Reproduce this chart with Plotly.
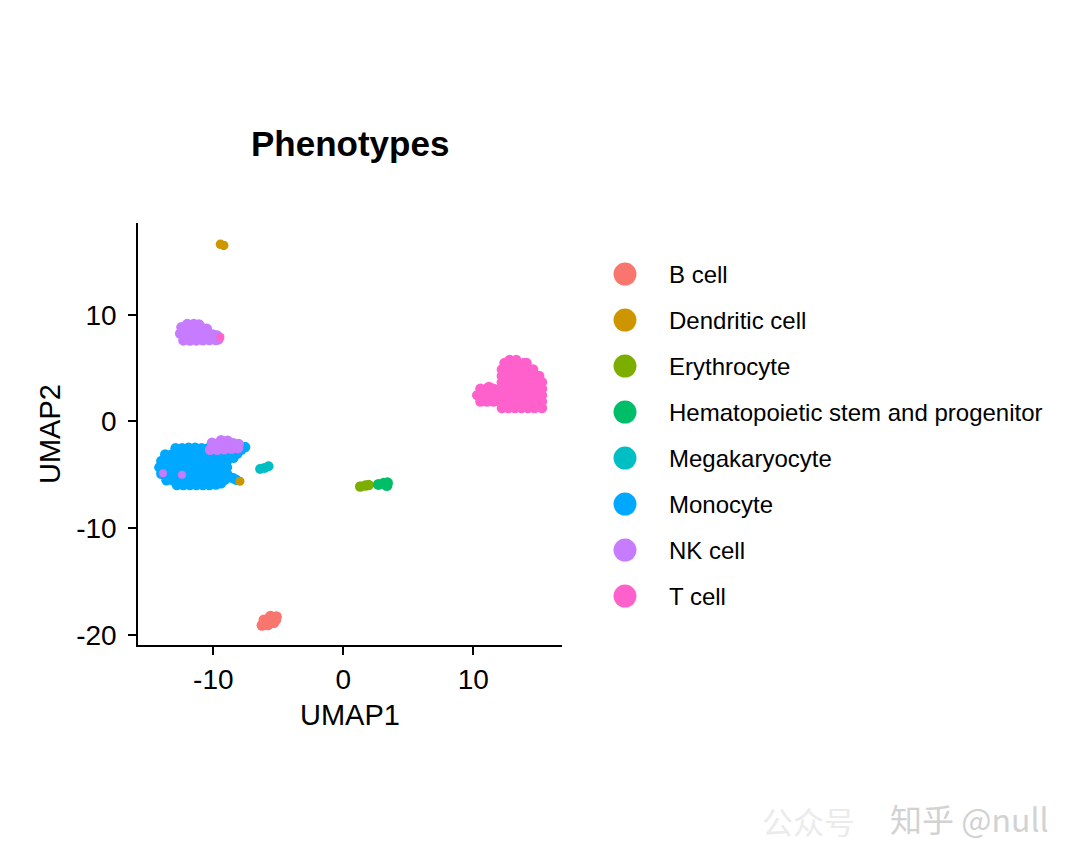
import plotly.graph_objects as go

# ---------------- data ----------------
categories = ["B cell", "Dendritic cell", "Erythrocyte",
              "Hematopoietic stem and progenitor", "Megakaryocyte",
              "Monocyte", "NK cell", "T cell"]
colors = ["#F8766D", "#CD9600", "#7CAE00", "#00BE67",
          "#00BFC4", "#00A9FF", "#C77CFF", "#FF61CC"]

x_ticks = [-10, 0, 10]
x_tick_labels = ["-10", "0", "10"]
y_ticks = [-20, -10, 0, 10]
y_tick_labels = ["-20", "-10", "0", "10"]

# (UMAP1, UMAP2) cells
monocyte_pts = [
    (-12.9, -2.5), (-12.4, -2.5), (-11.9, -2.45), (-11.4, -2.45), (-10.9, -2.5), (-10.4, -2.5), (-9.9, -2.6),
    (-13.7, -3.1), (-13.2, -3.1), (-12.7, -3.1), (-12.2, -3.1), (-11.7, -3.1), (-11.2, -3.1),
    (-10.7, -3.1), (-10.2, -3.1), (-9.7, -3.1), (-9.2, -3.1), (-8.7, -3.2),
    (-14.0, -3.7), (-13.5, -3.7), (-13.0, -3.7), (-12.5, -3.7), (-12.0, -3.7), (-11.5, -3.7),
    (-11.0, -3.7), (-10.5, -3.7), (-10.0, -3.7), (-9.5, -3.7), (-8.95, -3.7),
    (-14.15, -4.3), (-13.65, -4.3), (-13.15, -4.3), (-12.65, -4.3), (-12.15, -4.3), (-11.65, -4.3),
    (-11.15, -4.3), (-10.65, -4.3), (-10.15, -4.3), (-9.65, -4.3), (-9.15, -4.3), (-8.95, -4.3),
    (-14.0, -4.9), (-13.5, -4.9), (-13.0, -4.9), (-12.5, -4.9), (-12.0, -4.9), (-11.5, -4.9),
    (-11.0, -4.9), (-10.5, -4.9), (-10.0, -4.9), (-9.5, -4.9), (-8.95, -4.9),
    (-13.6, -5.5), (-13.1, -5.5), (-12.6, -5.5), (-12.1, -5.5), (-11.6, -5.5), (-11.1, -5.5),
    (-10.6, -5.5), (-10.1, -5.5), (-9.6, -5.5), (-9.1, -5.45),
    (-12.8, -5.95), (-12.3, -5.95), (-11.8, -5.95), (-11.3, -5.95), (-10.8, -5.95),
    (-10.3, -5.95), (-9.8, -5.9), (-9.4, -5.8),
    (-8.45, -3.4), (-8.15, -3.0), (-7.85, -2.65), (-7.55, -2.4),
    (-8.5, -5.3), (-8.25, -5.45),
]
dendritic_near_mono = [(-7.95, -5.6)]
nk_on_mono = [
    (-10.25, -2.65), (-9.7, -2.65), (-9.15, -2.6), (-8.6, -2.55), (-8.1, -2.5),
    (-10.1, -2.0), (-9.55, -2.0), (-9.0, -2.0), (-8.45, -2.05), (-8.05, -2.1),
    (-9.4, -1.75), (-8.9, -1.8),
]
nk_dots = [(-13.87, -4.85), (-12.41, -5.0)]
nk_upper = [
    (-12.0, 9.13), (-11.5, 9.13), (-11.1, 9.1),
    (-12.45, 8.84), (-11.95, 8.84), (-11.45, 8.84), (-10.95, 8.84), (-10.5, 8.7),
    (-12.55, 8.24), (-12.05, 8.24), (-11.55, 8.24), (-11.05, 8.24), (-10.55, 8.24),
    (-10.05, 8.15), (-9.7, 8.05),
    (-12.3, 7.6), (-11.8, 7.58), (-11.3, 7.6), (-10.8, 7.62), (-10.3, 7.64),
    (-9.8, 7.64), (-9.6, 7.7),
]
t_cell_tip = [(-9.45, 7.92)]
t_cell_main = [
    (12.2, 1.27), (12.7, 1.27), (13.2, 1.27), (13.7, 1.27), (14.2, 1.27), (14.7, 1.27), (15.28, 1.27),
    (10.55, 1.87), (11.05, 1.87), (11.55, 1.87), (12.05, 1.87), (12.55, 1.87), (13.05, 1.87),
    (13.55, 1.87), (14.05, 1.87), (14.55, 1.87), (15.05, 1.87), (15.28, 1.87),
    (10.3, 2.47), (10.8, 2.47), (11.3, 2.47), (11.8, 2.47), (12.3, 2.47), (12.8, 2.47),
    (13.3, 2.47), (13.8, 2.47), (14.3, 2.47), (14.8, 2.47), (15.28, 2.47),
    (10.55, 3.07), (11.05, 3.07), (11.55, 3.07), (12.05, 3.07), (12.55, 3.07), (13.05, 3.07),
    (13.55, 3.07), (14.05, 3.07), (14.55, 3.07), (15.05, 3.07), (15.28, 3.07),
    (11.2, 3.23),
    (12.2, 3.67), (12.7, 3.67), (13.2, 3.67), (13.7, 3.67), (14.2, 3.67), (14.7, 3.67), (15.28, 3.67),
    (12.2, 4.27), (12.7, 4.27), (13.2, 4.27), (13.7, 4.27), (14.2, 4.27), (14.7, 4.27), (15.07, 4.27),
    (12.2, 4.87), (12.7, 4.87), (13.2, 4.87), (13.7, 4.87), (14.2, 4.87), (14.6, 4.87),
    (12.4, 5.47), (12.9, 5.47), (13.4, 5.47), (13.9, 5.47), (14.1, 5.47),
    (12.8, 5.76), (13.3, 5.76),
]
dendritic_top = [(-9.45, 16.6), (-9.2, 16.5)]
megakaryocyte_pts = [(-6.4, -4.45), (-6.05, -4.35), (-5.75, -4.2)]
erythrocyte_pts = [(1.3, -6.1), (1.7, -6.0), (1.95, -5.95)]
hsc_pts = [(2.7, -5.9), (3.1, -5.8), (3.4, -5.75), (3.35, -6.0)]
b_cell_pts = [(-6.25, -19.1), (-5.8, -19.05), (-5.35, -18.85), (-5.15, -18.3),
              (-5.6, -18.25), (-6.1, -18.6), (-5.7, -18.6), (-5.2, -18.6)]

# draw order (later on top): (category, points, marker size)
layers = [
    ("Monocyte", monocyte_pts, 10.5),
    ("Dendritic cell", dendritic_near_mono, 9),
    ("NK cell", nk_on_mono, 10.5),
    ("NK cell", nk_dots, 8),
    ("NK cell", nk_upper, 10.5),
    ("T cell", t_cell_tip, 8),
    ("T cell", t_cell_main, 10.5),
    ("Dendritic cell", dendritic_top, 9.5),
    ("Megakaryocyte", megakaryocyte_pts, 10),
    ("Erythrocyte", erythrocyte_pts, 10.5),
    ("Hematopoietic stem and progenitor", hsc_pts, 11),
    ("B cell", b_cell_pts, 11),
]

FONT = "Liberation Sans, Arial, Helvetica, sans-serif"
W, H = 1080, 864
VS = 0.993  # vertical calibration of the rendered page


def fy(px):
    """paper y fraction for a target pixel row"""
    return 1 - (px / VS) / H


fig = go.Figure()
for cat, pts, size in layers:
    col = colors[categories.index(cat)]
    fig.add_trace(go.Scatter(
        x=[p[0] for p in pts], y=[p[1] for p in pts], mode="markers",
        marker=dict(color=col, size=size, line=dict(width=0)),
        name=cat, showlegend=False, xaxis="x", yaxis="y"))

# custom legend (swatches on a hidden axis)
fig.add_trace(go.Scatter(
    x=[0] * len(categories), y=list(range(len(categories))), mode="markers",
    marker=dict(color=colors, size=23, line=dict(width=0)),
    xaxis="x2", yaxis="y2", showlegend=False, hoverinfo="skip"))
for i, c in enumerate(categories):
    fig.add_annotation(x=42, y=i, xref="x2", yref="y2", text=c, showarrow=False,
                       xanchor="left", yanchor="middle",
                       font=dict(family=FONT, size=24, color="black"))

axis_common = dict(showline=True, linecolor="black", linewidth=2,
                   ticks="outside", ticklen=8, tickwidth=2, tickcolor="black",
                   showgrid=False, zeroline=False,
                   tickfont=dict(family=FONT, size=28, color="black"))

fig.update_layout(
    width=W, height=H, margin=dict(l=0, r=0, t=0, b=0),
    paper_bgcolor="white", plot_bgcolor="white",
    xaxis=dict(domain=[138.3 / W, 561.7 / W], range=[-15.77, 16.8],
               tickvals=x_ticks, ticktext=x_tick_labels, anchor="y", **axis_common),
    yaxis=dict(domain=[fy(645), fy(223)], range=[-20.95, 18.6],
               tickvals=y_ticks, ticktext=y_tick_labels, anchor="x",
               ticklabelstandoff=6, **axis_common),
    xaxis2=dict(domain=[600 / W, 1060 / W], range=[-25, 435], visible=False,
                anchor="y2", fixedrange=True),
    yaxis2=dict(domain=[fy(620), fy(250)], range=[7.5217, -0.5217],
                visible=False, anchor="x2", fixedrange=True),
    showlegend=False,
)

# titles
fig.add_annotation(x=350 / W, y=fy(143), xref="paper", yref="paper",
                   text="<b>Phenotypes</b>", showarrow=False,
                   xanchor="center", yanchor="middle",
                   font=dict(family=FONT, size=35, color="black"))
fig.add_annotation(x=350 / W, y=fy(715), xref="paper", yref="paper",
                   text="UMAP1", showarrow=False, xanchor="center", yanchor="middle",
                   font=dict(family=FONT, size=29, color="black"))
fig.add_annotation(x=50 / W, y=fy(434), xref="paper", yref="paper",
                   text="UMAP2", showarrow=False, textangle=-90,
                   xanchor="center", yanchor="middle",
                   font=dict(family=FONT, size=29, color="black"))

# faint watermark
fig.add_annotation(x=760 / W, y=fy(820), xref="paper", yref="paper",
                   text="公众号", showarrow=False, xanchor="left", yanchor="middle",
                   font=dict(family="Noto Sans CJK SC", size=31, color="#ebebeb"))
fig.add_annotation(x=888 / W, y=fy(818), xref="paper", yref="paper",
                   text="知乎 @null", showarrow=False, xanchor="left", yanchor="middle",
                   font=dict(family="Noto Sans CJK SC", size=32, color="#d2d2d2"))

fig.write_html("out.html")
